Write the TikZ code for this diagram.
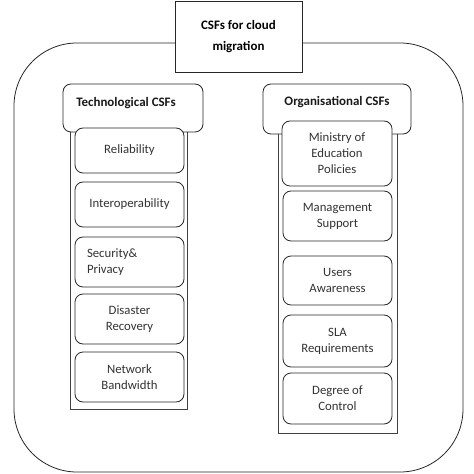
\documentclass[tikz,border=0pt]{standalone}
\usepackage{fontspec}
\setmainfont{Carlito}
\begin{document}
\begin{tikzpicture}[x=1bp,y=-1bp,
  outerbox/.style={draw=black!85, line width=0.8pt, rounded corners=63bp, minimum width=449bp, minimum height=429bp, inner sep=0pt},
  titlebox/.style={draw=black!85, fill=white, line width=0.8pt, minimum width=127bp, minimum height=71bp, inner sep=0pt, align=center, font=\fontsize{13}{21}\selectfont\bfseries},
  colbox/.style={draw=black!75, fill=white, line width=0.7pt, inner sep=0pt},
  headbox/.style={draw=black!85, fill=white, line width=0.8pt, rounded corners=8bp, inner sep=0pt},
  headtext/.style={font=\fontsize{13}{16}\selectfont\bfseries, text=black!90, inner sep=0pt},
  itembox/.style={draw=black!85, fill=white, line width=0.8pt, rounded corners=8bp, minimum width=109bp, inner sep=0pt, align=center, text=black!80, font=\fontsize{12.8}{16}\selectfont}
]
\useasboundingbox (0,0) rectangle (474,474);
\node[outerbox] (outer) at (238.5,257.5) {};
\node[titlebox] (title) at (238.5,36.5) {CSFs for cloud\\migration};

% left column
\node[colbox, minimum width=117bp, minimum height=281bp] (lcol) at (128.5,268.5) {};
\node[headbox, minimum width=140bp, minimum height=48bp] (lhead) at (133,108) {};
\node[headtext] (lheadtxt) at (126,103) {Technological CSFs};
\node[itembox, minimum height=45bp] (rel) at (129.5,150.5) {Reliability};
\node[itembox, minimum height=45bp] (int) at (129.5,204.5) {Interoperability};
\node[itembox, minimum height=50bp, align=left, text width=85bp, inner xsep=12bp] (sec) at (129.5,262) {Security\&\\Privacy};
\node[itembox, minimum height=50bp] (dis) at (129.5,319) {Disaster\\Recovery};
\node[itembox, minimum height=50bp] (net) at (129.5,377) {Network\\Bandwidth};

% right column
\node[colbox, minimum width=119bp, minimum height=308bp] (rcol) at (337.5,279) {};
\node[headbox, minimum width=148bp, minimum height=50bp] (rhead) at (337,109) {};
\node[headtext] (rheadtxt) at (337,102) {Organisational CSFs};
\node[itembox, minimum width=110bp, minimum height=65bp] (min) at (337,153.5) {Ministry of\\Education\\Policies};
\node[itembox, minimum height=50bp] (man) at (337.5,216) {Management\\Support};
\node[itembox, minimum height=49bp] (use) at (337.5,280.5) {Users\\Awareness};
\node[itembox, minimum height=52bp] (sla) at (337.5,341) {SLA\\Requirements};
\node[itembox, minimum height=51bp] (deg) at (337.5,398.5) {Degree of\\Control};
\end{tikzpicture}
\end{document}
